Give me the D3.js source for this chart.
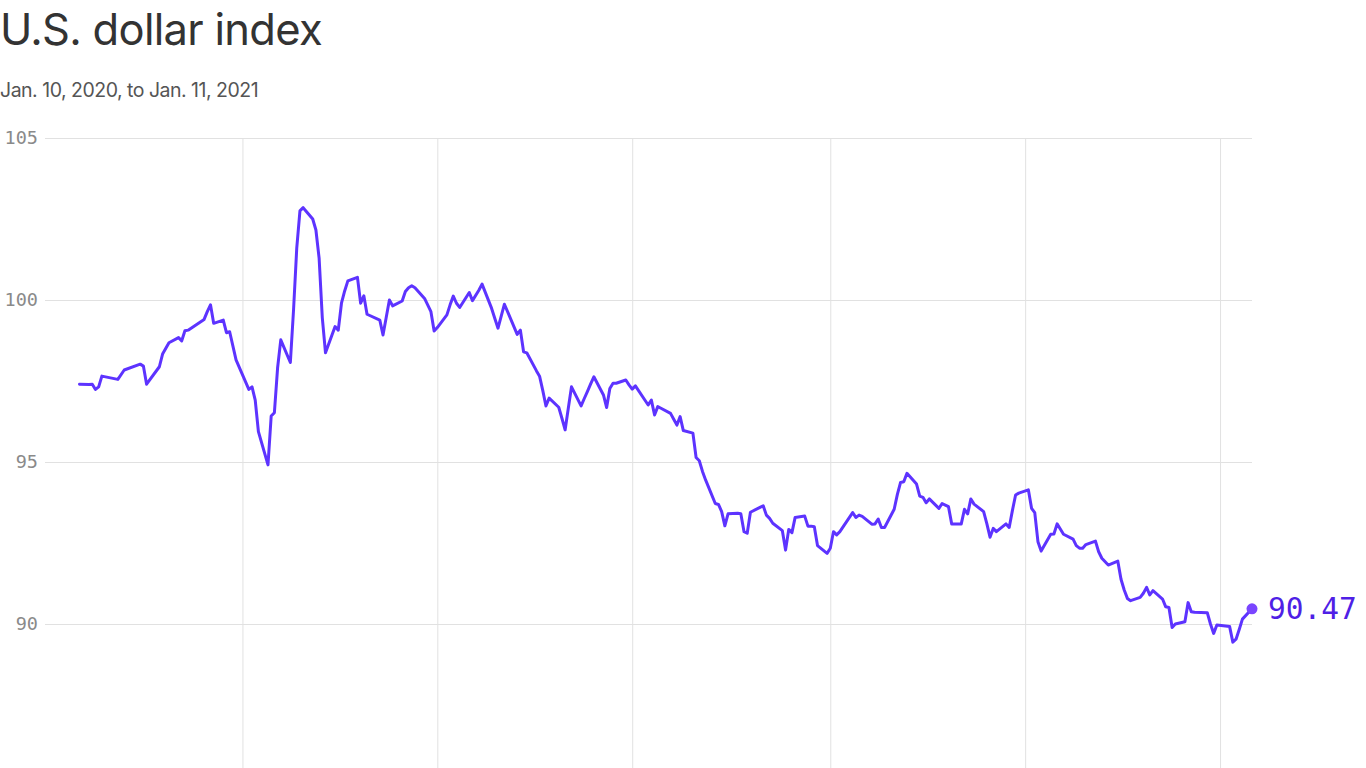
<!DOCTYPE html>
<html>
<head>
<meta charset="utf-8">
<script src="https://cdn.jsdelivr.net/npm/d3@7"></script>
<style>
  html, body { margin: 0; padding: 0; background: #fff; }
  svg { display: block; }
</style>
</head>
<body>
<svg id="chart" width="1366" height="768"></svg>
<script>
const title = "U.S. dollar index";
const subtitle = "Jan. 10, 2020, to Jan. 11, 2021";
const yTicks = [90, 95, 100, 105];
const lastLabel = "90.47";

const dates = [
  "2020-01-10","2020-01-13","2020-01-14","2020-01-15","2020-01-16","2020-01-17","2020-01-22","2020-01-24","2020-01-29","2020-01-30","2020-01-31",
  "2020-02-04","2020-02-05","2020-02-07","2020-02-10","2020-02-11","2020-02-12","2020-02-13","2020-02-18","2020-02-19","2020-02-20","2020-02-21","2020-02-24","2020-02-25","2020-02-26","2020-02-28",
  "2020-03-03","2020-03-04","2020-03-05","2020-03-06","2020-03-09","2020-03-10","2020-03-11","2020-03-12","2020-03-13","2020-03-16","2020-03-17","2020-03-18","2020-03-19","2020-03-20","2020-03-23","2020-03-24","2020-03-25","2020-03-26","2020-03-27","2020-03-30","2020-03-31",
  "2020-04-01","2020-04-02","2020-04-03","2020-04-06","2020-04-07","2020-04-08","2020-04-09","2020-04-13","2020-04-14","2020-04-15","2020-04-16","2020-04-17","2020-04-20","2020-04-21","2020-04-22","2020-04-23","2020-04-24","2020-04-27","2020-04-29","2020-04-30",
  "2020-05-01","2020-05-04","2020-05-05","2020-05-06","2020-05-07","2020-05-08","2020-05-11","2020-05-12","2020-05-14","2020-05-15","2020-05-18","2020-05-19","2020-05-20","2020-05-21","2020-05-22","2020-05-26","2020-05-27","2020-05-28","2020-05-29",
  "2020-06-01","2020-06-02","2020-06-03","2020-06-04","2020-06-05","2020-06-08","2020-06-09","2020-06-10","2020-06-11","2020-06-12","2020-06-15","2020-06-16","2020-06-17","2020-06-18","2020-06-19","2020-06-22","2020-06-23","2020-06-24","2020-06-25","2020-06-26","2020-06-29","2020-06-30",
  "2020-07-01","2020-07-02","2020-07-06","2020-07-07","2020-07-08","2020-07-09","2020-07-10","2020-07-13","2020-07-14","2020-07-15","2020-07-16","2020-07-17","2020-07-20","2020-07-21","2020-07-22","2020-07-23","2020-07-24","2020-07-27","2020-07-28","2020-07-29","2020-07-30","2020-07-31",
  "2020-08-03","2020-08-04","2020-08-05","2020-08-06","2020-08-07","2020-08-10","2020-08-11","2020-08-12","2020-08-13","2020-08-14","2020-08-17","2020-08-18","2020-08-19","2020-08-20","2020-08-21","2020-08-24","2020-08-25","2020-08-26","2020-08-27","2020-08-28","2020-08-31",
  "2020-09-01","2020-09-02","2020-09-03","2020-09-04","2020-09-08","2020-09-09","2020-09-10","2020-09-11","2020-09-14","2020-09-15","2020-09-16","2020-09-17","2020-09-18","2020-09-21","2020-09-22","2020-09-23","2020-09-24","2020-09-25","2020-09-28","2020-09-29","2020-09-30",
  "2020-10-01","2020-10-02","2020-10-05","2020-10-06","2020-10-07","2020-10-08","2020-10-09","2020-10-12","2020-10-13","2020-10-14","2020-10-15","2020-10-16","2020-10-19","2020-10-20","2020-10-21","2020-10-22","2020-10-23","2020-10-26","2020-10-27","2020-10-28","2020-10-29","2020-10-30",
  "2020-11-02","2020-11-03","2020-11-04","2020-11-05","2020-11-06","2020-11-09","2020-11-10","2020-11-11","2020-11-12","2020-11-13","2020-11-16","2020-11-17","2020-11-18","2020-11-19","2020-11-20","2020-11-23","2020-11-24","2020-11-25","2020-11-27","2020-11-30",
  "2020-12-01","2020-12-02","2020-12-03","2020-12-04","2020-12-07","2020-12-08","2020-12-09","2020-12-10","2020-12-11","2020-12-14","2020-12-15","2020-12-16","2020-12-17","2020-12-18","2020-12-21","2020-12-22","2020-12-23","2020-12-24","2020-12-28","2020-12-29","2020-12-30","2020-12-31",
  "2021-01-04","2021-01-05","2021-01-06","2021-01-07","2021-01-08","2021-01-11"
];

const values = [
  97.40,97.39,97.40,97.24,97.32,97.65,97.55,97.84,98.02,97.96,97.40,
  97.94,98.33,98.68,98.84,98.74,99.05,99.07,99.40,99.64,99.85,99.28,99.38,98.99,99.02,98.15,
  97.24,97.32,96.91,95.94,94.91,96.42,96.52,97.90,98.77,98.07,99.70,101.60,102.75,102.85,102.50,102.16,101.29,99.45,98.37,99.18,99.07,
  99.90,100.28,100.59,100.70,99.90,100.13,99.56,99.38,98.92,99.46,100.00,99.82,99.97,100.26,100.38,100.44,100.38,100.05,99.64,99.04,
  99.15,99.54,99.85,100.12,99.90,99.77,100.23,99.98,100.30,100.49,99.74,99.43,99.13,99.50,99.87,98.94,99.07,98.40,98.37,
  97.82,97.65,97.21,96.73,96.97,96.69,96.35,95.99,96.66,97.32,96.73,96.96,97.18,97.41,97.63,97.07,96.68,97.27,97.43,97.43,97.53,97.38,
  97.25,97.35,96.76,96.91,96.45,96.71,96.66,96.50,96.32,96.14,96.40,95.97,95.89,95.14,95.04,94.71,94.44,93.72,93.69,93.47,93.03,93.40,
  93.42,93.40,92.85,92.80,93.45,93.60,93.65,93.36,93.26,93.11,92.88,92.28,92.92,92.82,93.29,93.33,93.02,93.02,93.00,92.42,92.18,
  92.34,92.85,92.75,92.85,93.44,93.29,93.36,93.32,93.08,93.09,93.24,92.98,92.98,93.54,94.00,94.37,94.39,94.65,94.32,93.95,93.91,
  93.74,93.86,93.57,93.72,93.67,93.62,93.09,93.09,93.54,93.40,93.86,93.70,93.47,93.10,92.68,92.95,92.85,93.09,92.98,93.50,93.98,94.04,
  94.14,93.57,93.44,92.54,92.25,92.77,92.78,93.09,92.93,92.77,92.62,92.42,92.34,92.34,92.45,92.56,92.23,92.03,91.82,91.94,
  91.38,91.05,90.79,90.72,90.82,90.95,91.13,90.90,91.03,90.77,90.53,90.51,89.89,90.00,90.07,90.66,90.38,90.36,90.35,90.00,89.71,89.97,
  89.92,89.44,89.53,89.83,90.15,90.47
];

const parse = d3.timeParse("%Y-%m-%d");
const data = dates.map((d, i) => ({ date: parse(d), value: values[i] }));

const svg = d3.select("#chart");
const lineColor = "#5d33ff";

const x = d3.scaleTime()
  .domain([parse("2020-01-10"), parse("2021-01-11")])
  .range([79.5, 1252]);
const y = d3.scaleLinear().domain([90, 105]).range([624, 138]);

// Title and subtitle
svg.append("text")
  .attr("x", 0).attr("y", 45)
  .attr("font-family", "Inter, 'Noto Sans', sans-serif")
  .attr("font-size", 43.5)
  .attr("letter-spacing", -0.7)
  .attr("fill", "#333")
  .text(title);

svg.append("text")
  .attr("x", 0).attr("y", 97)
  .attr("font-family", "Inter, 'Noto Sans', sans-serif")
  .attr("font-size", 19.5)
  .attr("letter-spacing", -0.5)
  .attr("fill", "#555")
  .text(subtitle);

// Vertical gridlines (month ticks; labels fall below the visible area)
const xAxis = d3.axisBottom(x)
  .ticks(d3.timeMonth.every(2))
  .tickSize(-(800 - 138))
  .tickFormat("");
const gx = svg.append("g")
  .attr("transform", "translate(0,800)")
  .call(xAxis);
gx.select(".domain").remove();
gx.selectAll(".tick line").attr("stroke", "#e1e1e1").attr("stroke-width", 1);
gx.selectAll(".tick text").remove();

// Horizontal gridlines
const yAxis = d3.axisLeft(y)
  .tickValues(yTicks)
  .tickSize(-(1252 - 45))
  .tickPadding(7)
  .tickFormat(d3.format("d"));
const gy = svg.append("g")
  .attr("transform", "translate(45,0)")
  .call(yAxis);
gy.select(".domain").remove();
gy.selectAll(".tick line").attr("stroke", "#e1e1e1").attr("stroke-width", 1);
gy.selectAll(".tick text")
  .attr("font-family", "'DejaVu Sans Mono', monospace")
  .attr("font-size", 18.5)
  .attr("fill", "#8a8a8a");

// Line
const line = d3.line()
  .x(d => x(d.date))
  .y(d => y(d.value));

svg.append("path")
  .datum(data)
  .attr("fill", "none")
  .attr("stroke", lineColor)
  .attr("stroke-width", 3)
  .attr("stroke-linejoin", "round")
  .attr("stroke-linecap", "round")
  .attr("d", line);

const last = data[data.length - 1];
svg.append("circle")
  .attr("cx", x(last.date))
  .attr("cy", y(last.value))
  .attr("r", 5.5)
  .attr("fill", "#7a45ff");

svg.append("text")
  .attr("x", x(last.date) + 16)
  .attr("y", y(last.value) + 10)
  .attr("font-family", "'DejaVu Sans Mono', monospace")
  .attr("font-size", 29.5)
  .attr("fill", "#4f1fe6")
  .text(lastLabel);
</script>
</body>
</html>
